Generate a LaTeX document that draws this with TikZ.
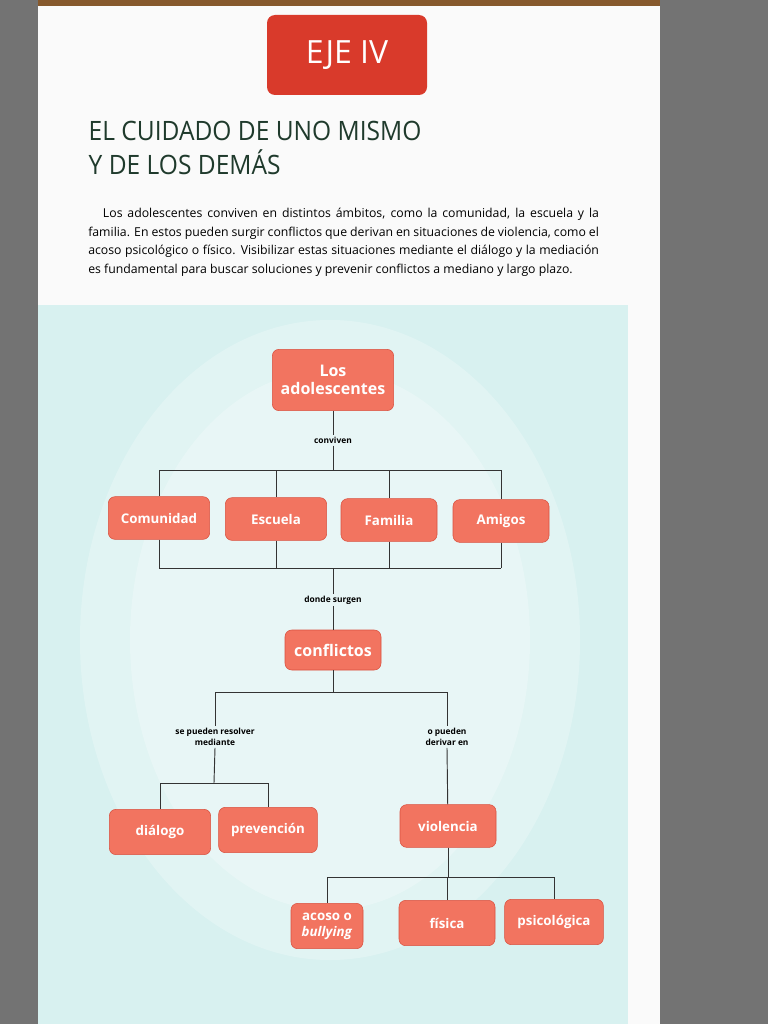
\documentclass[tikz,border=0pt]{standalone}
\usepackage{fontspec}
\setmainfont{Open Sans}
\definecolor{coral}{HTML}{F27460}
\definecolor{coraldk}{HTML}{D9503E}
\definecolor{tabred}{HTML}{D93A2B}
\definecolor{ttl}{HTML}{1F3A2C}
\definecolor{panel}{HTML}{D8F1F0}
\begin{document}
\begin{tikzpicture}[x=0.75pt,y=-0.75pt,
  box/.style={draw=coraldk,fill=coral,rounded corners=5pt,text=white,align=center,font=\fontsize{10}{12}\selectfont\bfseries,inner sep=3pt},
  lbl/.style={font=\fontsize{6.3}{8}\selectfont\bfseries,align=center,inner sep=1.5pt},
  ln/.style={draw=black!80,line width=0.7pt}]
\useasboundingbox (0,0) rectangle (768,1024);
\fill[black!55] (0,0) rectangle (768,1024);
\fill[white!96!gray] (38,0) rectangle (660,1024);
\fill[brown!70!black] (38,0) rectangle (660,6);
\fill[panel] (38,305) rectangle (628,1024);
\fill[white,opacity=0.25] (330,640) ellipse (250 and 320);
\fill[white,opacity=0.25] (330,640) ellipse (200 and 270);
\node[fill=tabred,rounded corners=6pt,minimum width=160*0.75pt,minimum height=80*0.75pt,text=white,font=\fontsize{24}{26}\selectfont] (tab) at (347,55) {EJE IV};
\node[anchor=west,text=ttl,align=left,font=\fontsize{20}{26}\selectfont] (title) at (84,148) {\scalebox{0.92}[1]{EL CUIDADO DE UNO MISMO}\\\scalebox{0.92}[1]{Y DE LOS DEMÁS}};
\node[anchor=north west,text width=383pt,align=justify,font=\fontsize{9.2}{14}\selectfont,inner sep=0] (par) at (88,208) {\hspace*{1.2em}Los adolescentes conviven en distintos ámbitos, como la comunidad, la escuela y la \mbox{familia}. En estos pueden surgir conflictos que derivan en situaciones de violencia, como el acoso psicológico o físico. Visibilizar estas situaciones mediante el diálogo y la mediación es fundamental para buscar soluciones y prevenir conflictos a mediano y largo plazo.};
\node[box,minimum width=91pt,minimum height=46pt,font=\fontsize{12}{14}\selectfont\bfseries] (ado) at (333,380) {Los\\adolescentes};
\node[box,minimum width=76pt,minimum height=32pt] (com) at (159,518) {Comunidad};
\node[box,minimum width=76pt,minimum height=32pt] (esc) at (276,519) {Escuela};
\node[box,minimum width=72pt,minimum height=32pt] (fam) at (389,520) {Familia};
\node[box,minimum width=72pt,minimum height=32pt] (ami) at (501,521) {Amigos};
\node[box,minimum width=72pt,minimum height=30pt,font=\fontsize{12}{14}\selectfont\bfseries] (con) at (333,650) {conflictos};
\node[box,minimum width=76pt,minimum height=34pt] (dia) at (160,832) {diálogo};
\node[box,minimum width=74pt,minimum height=34pt] (pre) at (268,830) {prevención};
\node[box,minimum width=72pt,minimum height=32pt] (vio) at (448,826) {violencia};
\node[box,minimum width=54pt,minimum height=34pt] (aco) at (327,926) {acoso o\\\textit{bullying}};
\node[box,minimum width=72pt,minimum height=34pt] (fis) at (447,923) {física};
\node[box,minimum width=74pt,minimum height=34pt] (psi) at (554,922) {psicológica};
\node[lbl] (l1) at (333,440) {conviven};
\node[lbl] (l2) at (333,600) {donde surgen};
\node[lbl] (l3) at (215,737) {se pueden resolver\\mediante};
\node[lbl] (l4) at (447,737) {o pueden\\derivar en};
\coordinate (t1) at (333,470);
\coordinate (b1) at (333,568);
\coordinate (c1) at (333,692);
\coordinate (c3) at (214,783);
\coordinate (v1) at (448,877);
\draw[ln] (ado) -- (l1);
\draw[ln] (l1) -- (t1);
\draw[ln] (com.north |- t1) -- (ami.north |- t1);
\foreach \n in {com,esc,fam,ami}{
 \draw[ln] (\n.north |- t1) -- (\n.north);
 \draw[ln] (\n.south) -- (\n.south |- b1);}
\draw[ln] (com.south |- b1) -- (ami.south |- b1);
\draw[ln] (b1) -- (l2);
\draw[ln] (l2) -- (con);
\draw[ln] (con) -- (c1);
\draw[ln] (l3.north |- c1) -- (l4.north |- c1);
\draw[ln] (l3.north |- c1) -- (l3.north);
\draw[ln] (l4.north |- c1) -- (l4.north);
\draw[ln] (l3.south) -- (c3);
\draw[ln] (dia.north |- c3) -- (pre.north |- c3);
\draw[ln] (dia.north |- c3) -- (dia.north);
\draw[ln] (pre.north |- c3) -- (pre.north);
\draw[ln] (l4.south) -- (vio);
\draw[ln] (vio) -- (v1);
\draw[ln] (aco.north |- v1) -- (psi.north |- v1);
\draw[ln] (aco.north |- v1) -- (aco.north);
\draw[ln] (fis.north |- v1) -- (fis.north);
\draw[ln] (psi.north |- v1) -- (psi.north);
\end{tikzpicture}
\end{document}
